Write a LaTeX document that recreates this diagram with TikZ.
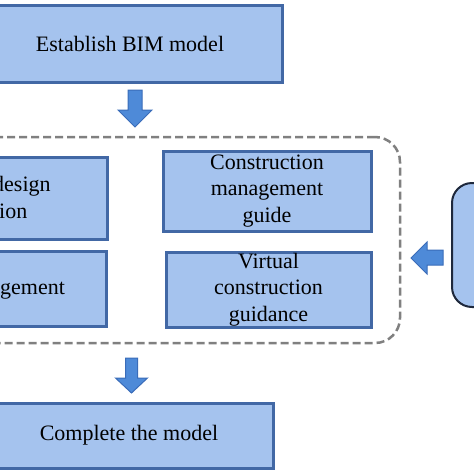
\documentclass[tikz,border=0pt]{standalone}
\usepackage{fontspec}
\setmainfont{Liberation Serif}
\definecolor{boxfill}{RGB}{165,195,238}
\definecolor{boxline}{RGB}{66,104,165}
\definecolor{arrowfill}{RGB}{78,138,216}
\definecolor{arrowline}{RGB}{58,108,185}
\definecolor{dashgray}{RGB}{128,128,128}
\definecolor{darkline}{RGB}{30,40,60}
\begin{document}
\begin{tikzpicture}[x=1pt,y=-1pt,
  box/.style={draw=boxline, fill=boxfill, line width=3pt, rectangle, inner sep=0pt, align=center, font=\fontsize{22}{26.5}\selectfont},
  txt/.style={inner sep=0pt, font=\fontsize{22}{26.5}\selectfont},
  blockarrow/.style={fill=arrowfill, draw=arrowline, line width=1pt, line join=miter}]
\useasboundingbox (0,0) rectangle (474,474);
\fill[white] (0,0) rectangle (474,474);
% top box
\node[box, minimum width=304pt, minimum height=77pt] (est) at (130,43.5) {Establish BIM model};
% dashed group
\node[draw=dashgray, line width=2.5pt, dash pattern=on 8pt off 4pt, rounded corners=25pt, minimum width=430pt, minimum height=206pt, inner sep=0pt] (group) at (185,240) {};
% inner boxes
\node[box, minimum width=208pt, minimum height=82pt] (tl) at (3,198) {};
\node[txt, anchor=base west] (tla) at (-7,191) {design};
\node[txt, anchor=base west] (tlb) at (-1,218) {ion};
\node[box, minimum width=208pt, minimum height=75pt] (bl) at (2,288.5) {};
\node[txt, anchor=base west] (bla) at (0,294) {gement};
\node[box, minimum width=208pt, minimum height=80pt] (tr) at (267,191) {Construction\\management\\guide};
\node[box, minimum width=205pt, minimum height=75pt] (br) at (268.5,289.5) {Virtual\\construction\\guidance};
% right rounded box
\node[draw=darkline, fill=boxfill, line width=2pt, rounded corners=20pt, minimum width=120pt, minimum height=124pt, inner sep=0pt] (side) at (512,245) {};
% bottom box
\node[box, minimum width=288pt, minimum height=65pt] (done) at (129,435.5) {Complete the model};
% block arrows
\filldraw[blockarrow] (128,90) -- (142,90) -- (142,110) -- (152,110) -- (135,127) -- (118,110) -- (128,110) -- cycle;
\filldraw[blockarrow] (125.5,358) -- (137.5,358) -- (137.5,378) -- (147.5,378) -- (131.5,393) -- (115.5,378) -- (125.5,378) -- cycle;
\filldraw[blockarrow] (443,250) -- (427,250) -- (427,242) -- (411,258) -- (427,274) -- (427,265) -- (443,265) -- cycle;
\end{tikzpicture}
\end{document}
